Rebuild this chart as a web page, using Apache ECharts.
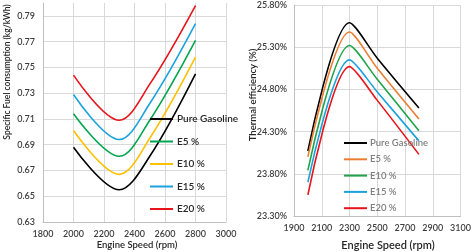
<!DOCTYPE html>
<html>
<head>
<meta charset="utf-8">
<script src="https://cdn.jsdelivr.net/npm/echarts@6/dist/echarts.min.js"></script>
<style>
  html, body { margin: 0; padding: 0; background: #fff; }
  #main { width: 474px; height: 252px; }
</style>
</head>
<body>
<div id="main"></div>
<script>
// engine speeds (rpm) measured
const speeds = [2000, 2300, 2500, 2800];
const fuels = ['Pure Gasoline', 'E5 %', 'E10 %', 'E15 %', 'E20 %'];

// specific fuel consumption (kg/kWh)
const sfcPure = [0.688, 0.655, 0.681, 0.745];
const sfcE5 = [0.714, 0.681, 0.709, 0.771];
const sfcE10 = [0.701, 0.667, 0.695, 0.758];
const sfcE15 = [0.729, 0.694, 0.722, 0.784];
const sfcE20 = [0.744, 0.709, 0.737, 0.798];

// thermal efficiency (%)
const thPure = [24.07, 25.59, 25.17, 24.58];
const thE5 = [24.00, 25.48, 25.05, 24.45];
const thE10 = [23.84, 25.32, 24.92, 24.31];
const thE15 = [23.70, 25.15, 24.77, 24.19];
const thE20 = [23.55, 25.07, 24.67, 24.03];

const sfcColors = ['#000000', '#00a650', '#ffc000', '#1ba3dd', '#e8141b'];
const thColors = ['#000000', '#ed7d31', '#1fa34a', '#1ba3dd', '#e8141b'];

const font = 'Lato, "Open Sans", sans-serif';
const rightX0 = 1900; // right x axis starts at 1900, ticks every 200

let myChart = echarts.init(document.getElementById('main'));

const sfcData = [sfcPure, sfcE5, sfcE10, sfcE15, sfcE20];
const thData = [thPure, thE5, thE10, thE15, thE20];

let series = [];
sfcData.forEach((vals, i) => {
  series.push({
    name: fuels[i], type: 'line', xAxisIndex: 0, yAxisIndex: 0,
    smooth: 0.35, symbol: 'none',
    lineStyle: { color: sfcColors[i], width: 1.6 },
    itemStyle: { color: sfcColors[i] },
    data: speeds.map((s, k) => [s, vals[k]])
  });
});
thData.forEach((vals, i) => {
  series.push({
    name: fuels[i] + ' ', type: 'line', xAxisIndex: 1, yAxisIndex: 1,
    smooth: 0.3, symbol: 'none',
    lineStyle: { color: thColors[i], width: 1.6 },
    itemStyle: { color: thColors[i] },
    data: speeds.map((s, k) => [s - rightX0, vals[k]])
  });
});

const gridLine = { show: true, lineStyle: { color: '#d9d9d9', width: 1 } };
const axLine = { show: true, lineStyle: { color: '#bfbfbf', width: 1 } };
const tickLbl = { color: '#404040', fontFamily: font, fontSize: 9, fontWeight: 600 };

myChart.setOption({
  animation: false,
  grid: [
    { left: 43, right: 248, top: 3, bottom: 30 },
    { left: 294, right: 10, top: 5, bottom: 36 }
  ],
  xAxis: [
    {
      gridIndex: 0, type: 'value', min: 1800, max: 3000, interval: 200,
      axisLine: axLine, axisTick: { show: false }, splitLine: gridLine,
      axisLabel: Object.assign({ margin: 8, formatter: v => String(v) }, tickLbl)
    },
    {
      gridIndex: 1, type: 'value', min: 0, max: 1200, interval: 200,
      axisLine: axLine, axisTick: { show: false }, splitLine: gridLine,
      axisLabel: Object.assign({ margin: 8, formatter: v => String(v + rightX0) }, tickLbl)
    }
  ],
  yAxis: [
    {
      gridIndex: 0, type: 'value', min: 0.63, max: 0.80, interval: 0.02,
      axisLine: axLine, axisTick: { show: false },
      splitLine: Object.assign({ showMaxLine: false }, gridLine),
      axisLabel: Object.assign({ margin: 8, showMaxLabel: false, formatter: v => v.toFixed(2) }, tickLbl)
    },
    {
      gridIndex: 1, type: 'value', min: 23.3, max: 25.8, interval: 0.5,
      axisLine: axLine, axisTick: { show: false }, splitLine: gridLine,
      axisLabel: Object.assign({ margin: 7, formatter: v => v.toFixed(2) + '%' }, tickLbl)
    }
  ],
  legend: [
    {
      data: fuels, orient: 'vertical', left: 145, top: 108, height: 130,
      icon: 'rect', itemWidth: 23, itemHeight: 2, itemGap: 10.5,
      textStyle: { color: '#262626', fontFamily: font, fontSize: 10, lineHeight: 12, fontWeight: 600, padding: [0, 0, 0, -1] }
    },
    {
      data: fuels.map(f => f + ' '), orient: 'vertical', left: 339, top: 132, height: 110,
      icon: 'rect', itemWidth: 23, itemHeight: 2, itemGap: 4.3,
      formatter: n => n.trim(),
      textStyle: { color: '#7f7f7f', fontFamily: font, fontSize: 9.5, lineHeight: 12, fontWeight: 600, padding: [0, 0, 0, -2] }
    }
  ],
  graphic: [
    {
      type: 'text', x: 7, y: 72, rotation: Math.PI / 2,
      style: { text: 'Specific Fuel consumption (kg/kWh)', align: 'center', verticalAlign: 'middle',
        fill: '#262626', font: '600 8.5px ' + font }
    },
    {
      type: 'text', x: 137, y: 245,
      style: { text: 'Engine Speed (rpm)', align: 'center', verticalAlign: 'middle',
        fill: '#262626', font: '600 9.5px ' + font }
    },
    {
      type: 'text', x: 253, y: 95, rotation: Math.PI / 2,
      style: { text: 'Thermal efficiency (%)', align: 'center', verticalAlign: 'middle',
        fill: '#262626', font: '600 9.5px ' + font }
    },
    {
      type: 'text', x: 388, y: 245,
      style: { text: 'Engine Speed (rpm)', align: 'center', verticalAlign: 'middle',
        fill: '#262626', font: '600 11px ' + font }
    }
  ],
  series: series
});
</script>
</body>
</html>
